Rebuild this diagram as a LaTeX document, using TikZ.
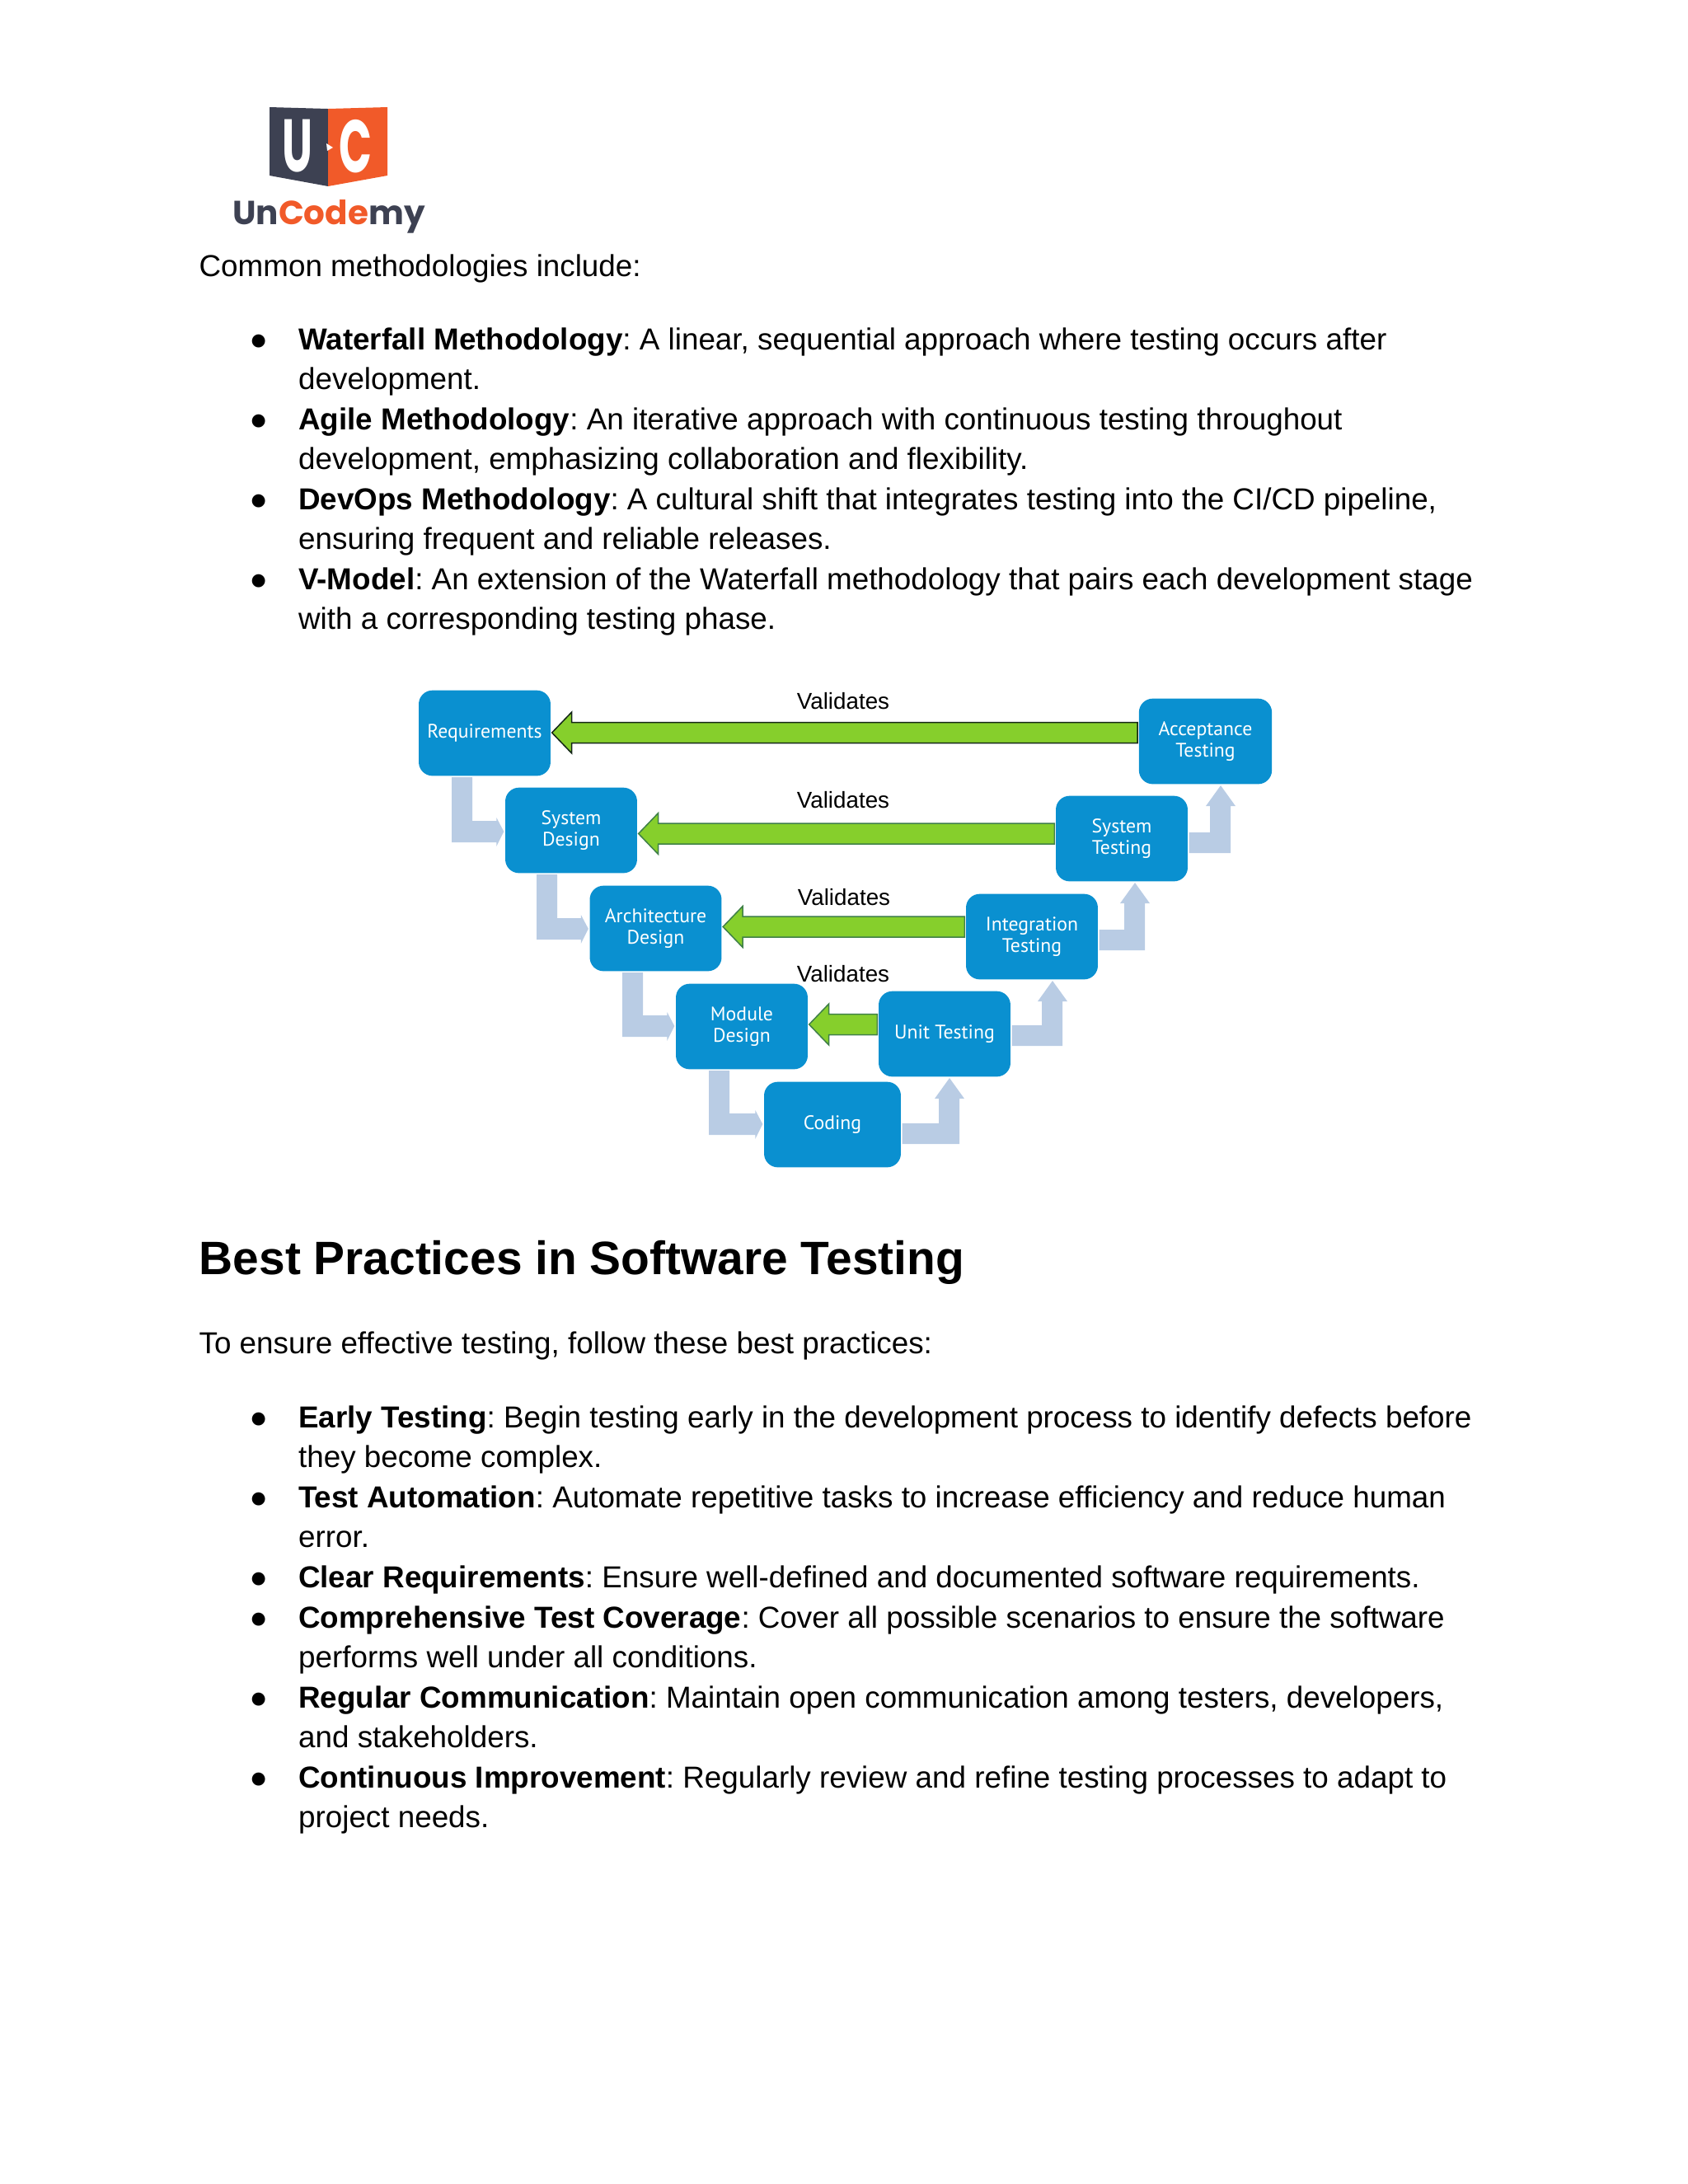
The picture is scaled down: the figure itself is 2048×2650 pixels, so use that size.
\documentclass[tikz,border=0pt]{standalone}
\usepackage{fontspec}
\setmainfont{Liberation Sans}
\newfontfamily\logofont{Poppins}
\newfontfamily\boxfont{PT Sans}
\usetikzlibrary{calc}
\frenchspacing
\definecolor{boxblue}{HTML}{0A90D0}
\definecolor{elbowblue}{HTML}{B9CCE4}
\definecolor{validgreen}{HTML}{86CF2C}
\definecolor{validedge}{HTML}{3F8048}
\definecolor{logodark}{HTML}{3D4152}
\definecolor{logoorange}{HTML}{F15A29}
\tikzset{
  para/.style={anchor=base west,inner sep=0pt,font=\fontsize{11}{14}\selectfont},
  dot/.style={anchor=base west,inner sep=0pt,font=\fontsize{11}{14}\selectfont},
  stage/.style={fill=boxblue,text=white,rounded corners=5pt,minimum width=47.8pt,minimum height=31pt,
    inner sep=0pt,outer sep=.5pt,align=center,font=\boxfont\fontsize{7.1}{7.7}\selectfont},
  vlabel/.style={anchor=base,inner sep=0pt,font=\fontsize{8.3}{10}\selectfont},
  logoletter/.style={anchor=base,inner sep=0pt,text=white,xscale=.58,font=\logofont\bfseries\fontsize{27}{27}\selectfont},
  validline/.style={draw=validedge,fill=validgreen,line width=.45pt},
  elbowfill/.style={fill=elbowblue}
}
% tip node, tail node, height
\newcommand\validarrow[4][]{
  \coordinate (tip) at (#2.east |- 0,#4);
  \draw[validline,#1] (tip) -- ++(24,-25) -- ++(0,12.5) -- (#3.west |- 0,{#4-12.5}) -- ++(0,25)
    -- ($(tip)+(24,12.5)$) -- ++(0,12.5) -- cycle;
}
% from node, to node, left edge of the stem, top of the band
\newcommand\elbowdown[4]{
  \coordinate (tip) at (#2.west |- 0,{#4+13});
  \fill[elbowfill] ({#3},0 |- #1.south) -- ({#3+25},0 |- #1.south) -- ({#3+25},#4)
    -- ($(tip)+(-9,-13)$) -- ++(0,-4) -- (tip) -- ++(-9,18) -- ++(0,-5) -- ({#3},{#4+26}) -- cycle;
}
% from node, to node, middle of the stem, top of the band
\newcommand\elbowup[4]{
  \coordinate (tip) at ({#3},0 |- #2.south);
  \fill[elbowfill] (#1.east |- 0,#4) -- ({#3-13},#4) -- ($(tip)+(-13,25)$) -- ++(-5,0) -- (tip)
    -- ++(18,25) -- ++(-6,0) -- ({#3+12},{#4+25}) -- (#1.east |- 0,{#4+25}) -- cycle;
}
\begin{document}
\begin{tikzpicture}[x=0.29883pt,y=-0.29883pt]
  \useasboundingbox (0,0) rectangle (2048,2650);
  % logo
  \fill[logodark] (327,130) -- (398,132) -- (398,226) -- (327,213) -- cycle;
  \fill[logoorange] (398,132) -- (470,130) -- (470,213) -- (398,226) -- cycle;
  \fill[white] (396,174) -- (404,179) -- (397,183) -- cycle;
  \path
    (361,208) node[logoletter] (logou){U}
    (431,209) node[logoletter] (logoc){C}
    (399,272) node[anchor=base,inner sep=0pt,font=\logofont\bfseries\fontsize{12.1}{13}\selectfont] (logoname)
      {\textcolor{logodark}{Un}\textcolor{logoorange}{Code}\textcolor{logodark}{my}};
  % first list
  \path
    (241,335) node[para] (intro){Common methodologies include:}
    (302,424) node[dot] (b1){●}
    (361.5,424) node[para] (l1){\textbf{Waterfall Methodology}: A linear, sequential approach where testing occurs after}
    (361.5,472.5) node[para] (l2){development.}
    (302,521) node[dot] (b2){●}
    (361.5,521) node[para] (l3){\textbf{Agile Methodology}: An iterative approach with continuous testing throughout}
    (361.5,569.5) node[para] (l4){development, emphasizing collaboration and flexibility.}
    (302,618) node[dot] (b3){●}
    (361.5,618) node[para] (l5){\textbf{DevOps Methodology}: A cultural shift that integrates testing into the CI/CD pipeline,}
    (361.5,666.5) node[para] (l6){ensuring frequent and reliable releases.}
    (302,715) node[dot] (b4){●}
    (361.5,715) node[para] (l7){\textbf{V-Model}: An extension of the Waterfall methodology that pairs each development stage}
    (361.5,763.5) node[para] (l8){with a corresponding testing phase.};
  % stages
  \path
    (588,889.5) node[stage] (req){Requirements}
    (693,1007.5) node[stage] (sysd){System\\Design}
    (795.5,1126.5) node[stage] (archd){Architecture\\Design}
    (900,1245.5) node[stage] (modd){Module\\Design}
    (1010,1364.5) node[stage,minimum width=49.6pt] (cod){Coding}
    (1146,1254.5) node[stage] (unit){Unit Testing}
    (1252,1136.5) node[stage] (integ){Integration\\Testing}
    (1361,1017.5) node[stage] (syst){System\\Testing}
    (1462.5,899.5) node[stage,minimum width=48.2pt] (acc){Acceptance\\Testing};
  % validates
  \path
    (1023,860) node[vlabel] (v1){Validates}
    (1023,980) node[vlabel] (v2){Validates}
    (1024,1098) node[vlabel] (v3){Validates}
    (1023,1191) node[vlabel] (v4){Validates};
  \validarrow[draw=black!70!validedge]{req}{acc}{889}
  \validarrow{sysd}{syst}{1011.5}
  \validarrow{archd}{integ}{1124.5}
  \validarrow{modd}{unit}{1243}
  % elbows
  \elbowdown{req}{sysd}{548}{996}
  \elbowdown{sysd}{archd}{651}{1114}
  \elbowdown{archd}{modd}{755}{1232}
  \elbowdown{modd}{cod}{860}{1351}
  \elbowup{cod}{unit}{1152}{1363}
  \elbowup{unit}{integ}{1277}{1244}
  \elbowup{integ}{syst}{1377}{1128}
  \elbowup{syst}{acc}{1481}{1010}
  % second part
  \path
    (241,1546) node[para,font=\bfseries\fontsize{17}{20}\selectfont] (head){Best Practices in Software Testing}
    (241,1642) node[para] (intro2){To ensure effective testing, follow these best practices:}
    (302,1732) node[dot] (c1){●}
    (361.5,1732) node[para] (m1){\textbf{Early Testing}: Begin testing early in the development process to identify defects before}
    (361.5,1780.5) node[para] (m2){they become complex.}
    (302,1829) node[dot] (c2){●}
    (361.5,1829) node[para] (m3){\textbf{Test Automation}: Automate repetitive tasks to increase efficiency and reduce human}
    (361.5,1877.5) node[para] (m4){error.}
    (302,1926) node[dot] (c3){●}
    (361.5,1926) node[para] (m5){\textbf{Clear Requirements}: Ensure well-defined and documented software requirements.}
    (302,1975) node[dot] (c4){●}
    (361.5,1975) node[para] (m6){\textbf{Comprehensive Test Coverage}: Cover all possible scenarios to ensure the software}
    (361.5,2023.5) node[para] (m7){performs well under all conditions.}
    (302,2072) node[dot] (c5){●}
    (361.5,2072) node[para] (m8){\textbf{Regular Communication}: Maintain open communication among testers, developers,}
    (361.5,2120.5) node[para] (m9){and stakeholders.}
    (302,2169) node[dot] (c6){●}
    (361.5,2169) node[para] (m10){\textbf{Continuous Improvement}: Regularly review and refine testing processes to adapt to}
    (361.5,2217.5) node[para] (m11){project needs.};
\end{tikzpicture}
\end{document}
